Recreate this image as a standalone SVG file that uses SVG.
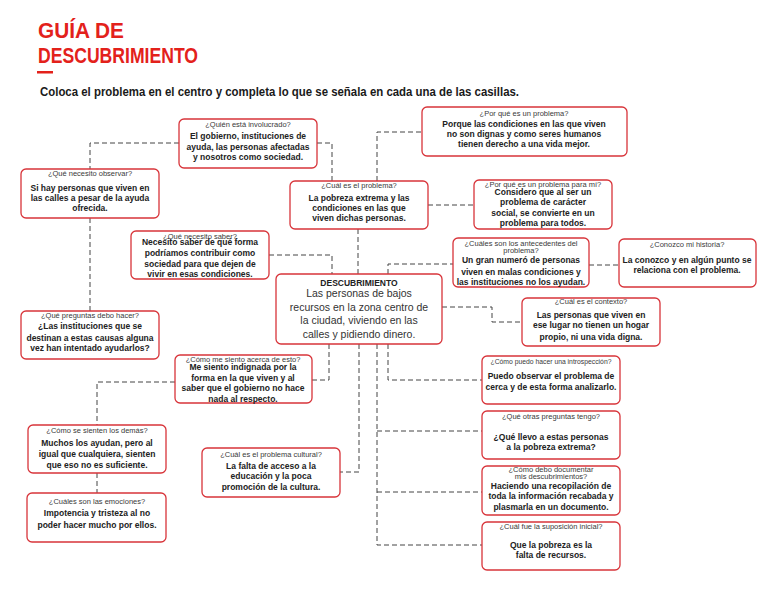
<svg xmlns="http://www.w3.org/2000/svg" width="768" height="594" viewBox="0 0 768 594">
<style>
.box{fill:#fff;stroke:#d8343a;stroke-width:1.3}
.lbl{font-family:"Liberation Sans",Arial,sans-serif;font-size:7.5px;fill:#3a3a3a;text-anchor:middle}
.txt{font-family:"Liberation Sans",Arial,sans-serif;font-size:8.5px;font-weight:bold;fill:#222;text-anchor:middle}
.big{font-family:"Liberation Sans",Arial,sans-serif;font-size:10.5px;fill:#333;text-anchor:middle}
.conn{fill:none;stroke:#444;stroke-width:1;stroke-dasharray:5 3}
.title{font-family:"Liberation Sans",Arial,sans-serif;font-size:22px;font-weight:bold;fill:#e3211b}
</style>
<rect width="768" height="594" fill="#fff"/>
<g id="header">
<text class="title" x="38" y="38" textLength="86" lengthAdjust="spacingAndGlyphs">GUÍA DE</text>
<text class="title" x="38" y="63" textLength="160" lengthAdjust="spacingAndGlyphs">DESCUBRIMIENTO</text>
<rect x="37" y="71" width="16" height="2.5" fill="#e3211b"/>
<text x="40" y="96" font-family="Liberation Sans,Arial,sans-serif" font-size="12" font-weight="bold" fill="#1a1a1a" textLength="479" lengthAdjust="spacingAndGlyphs">Coloca el problema en el centro y completa lo que se señala en cada una de las casillas.</text>
</g>
<g id="connectors">
<path class="conn" d="M179,143 H90 V169"/>
<path class="conn" d="M90,218 V311"/>
<path class="conn" d="M317,143 H332 V181"/>
<path class="conn" d="M377,181 V132 H422"/>
<path class="conn" d="M428,205 H474"/>
<path class="conn" d="M358,229 V274"/>
<path class="conn" d="M269,255 H332 V274"/>
<path class="conn" d="M388,274 V264 H453"/>
<path class="conn" d="M589,265 H619"/>
<path class="conn" d="M442,307 H492 V322 H522"/>
<path class="conn" d="M329,344 V380 H312"/>
<path class="conn" d="M359,344 V472 H340"/>
<path class="conn" d="M377,344 V545 H482"/>
<path class="conn" d="M377,431 H482"/>
<path class="conn" d="M377,492 H482"/>
<path class="conn" d="M388,344 V380 H482"/>
<path class="conn" d="M175,382 H97 V425"/>
<path class="conn" d="M97,473 V493"/>
</g>
<g id="quien">
<rect class="box" x="179" y="119" width="138" height="49" rx="5"/>
<text class="lbl" x="248" y="127">¿Quién está involucrado?</text>
<text class="txt" x="248" y="139">El gobierno, instituciones de</text>
<text class="txt" x="248" y="150">ayuda, las personas afectadas</text>
<text class="txt" x="248" y="160">y nosotros como sociedad.</text>
</g>
<g id="observar">
<rect class="box" x="21" y="169" width="138" height="49" rx="5"/>
<text class="lbl" x="90" y="176">¿Qué necesito observar?</text>
<text class="txt" x="90" y="191">Si hay personas que viven en</text>
<text class="txt" x="90" y="201">las calles a pesar de la ayuda</text>
<text class="txt" x="90" y="211">ofrecida.</text>
</g>
<g id="problema">
<rect class="box" x="290" y="181" width="138" height="48" rx="5"/>
<text class="lbl" x="359" y="188">¿Cuál es el problema?</text>
<text class="txt" x="359" y="201">La pobreza extrema y las</text>
<text class="txt" x="359" y="211">condiciones en las que</text>
<text class="txt" x="359" y="221">viven dichas personas.</text>
</g>
<g id="porque">
<rect class="box" x="422" y="107" width="205" height="49" rx="5"/>
<text class="lbl" x="524" y="116">¿Por qué es un problema?</text>
<text class="txt" x="524" y="127">Porque las condiciones en las que viven</text>
<text class="txt" x="524" y="137">no son dignas y como seres humanos</text>
<text class="txt" x="524" y="147">tienen derecho a una vida mejor.</text>
</g>
<g id="parami">
<rect class="box" x="474" y="180" width="138" height="49" rx="5"/>
<text class="lbl" x="543" y="187">¿Por qué es un problema para mí?</text>
<text class="txt" x="543" y="195">Considero que al ser un</text>
<text class="txt" x="543" y="205">problema de carácter</text>
<text class="txt" x="543" y="216">social, se convierte en un</text>
<text class="txt" x="543" y="226">problema para todos.</text>
</g>
<g id="saber">
<rect class="box" x="131" y="231" width="138" height="48" rx="5"/>
<text class="lbl" x="200" y="239">¿Qué necesito saber?</text>
<text class="txt" x="200" y="245">Necesito saber de qué forma</text>
<text class="txt" x="200" y="256">podríamos contribuir como</text>
<text class="txt" x="200" y="267">sociedad para que dejen de</text>
<text class="txt" x="200" y="277">vivir en esas condiciones.</text>
</g>
<g id="antecedentes">
<rect class="box" x="453" y="238" width="136" height="49" rx="5"/>
<text class="lbl" x="521" y="246">¿Cuáles son los antecedentes del</text>
<text class="lbl" x="521" y="253">problema?</text>
<text class="txt" x="521" y="263">Un gran numeró de personas</text>
<text class="txt" x="521" y="275">viven en malas condiciones y</text>
<text class="txt" x="521" y="285">las instituciones no los ayudan.</text>
</g>
<g id="historia">
<rect class="box" x="619" y="239" width="137" height="48" rx="5"/>
<text class="lbl" x="687" y="247">¿Conozco mi historia?</text>
<text class="txt" x="687" y="263">La conozco y en algún punto se</text>
<text class="txt" x="687" y="273">relaciona con el problema.</text>
</g>
<g id="contexto">
<rect class="box" x="522" y="298" width="138" height="48" rx="5"/>
<text class="lbl" x="591" y="304">¿Cuál es el contexto?</text>
<text class="txt" x="591" y="318">Las personas que viven en</text>
<text class="txt" x="591" y="328">ese lugar no tienen un hogar</text>
<text class="txt" x="591" y="340">propio, ni una vida digna.</text>
</g>
<g id="descubrimiento">
<rect class="box" x="276" y="274" width="166" height="70" rx="5"/>
<text class="txt" x="359" y="286" style="font-size:8.5px">DESCUBRIMIENTO</text>
<text class="big" x="359" y="297">Las personas de bajos</text>
<text class="big" x="359" y="311">recursos en la zona centro de</text>
<text class="big" x="359" y="324">la ciudad, viviendo en las</text>
<text class="big" x="359" y="338">calles y pidiendo dinero.</text>
</g>
<g id="preguntas">
<rect class="box" x="21" y="311" width="138" height="48" rx="5"/>
<text class="lbl" x="90" y="318">¿Qué preguntas debo hacer?</text>
<text class="txt" x="90" y="329">¿Las instituciones que se</text>
<text class="txt" x="90" y="341">destinan a estas causas alguna</text>
<text class="txt" x="90" y="351">vez han intentado ayudarlos?</text>
</g>
<g id="siento">
<rect class="box" x="175" y="355" width="137" height="48" rx="5"/>
<text class="lbl" x="243" y="362">¿Cómo me siento acerca de esto?</text>
<text class="txt" x="243" y="370">Me siento indignada por la</text>
<text class="txt" x="243" y="381">forma en la que viven y al</text>
<text class="txt" x="243" y="391">saber que el gobierno no hace</text>
<text class="txt" x="243" y="402">nada al respecto.</text>
</g>
<g id="introspeccion">
<rect class="box" x="482" y="356" width="138" height="48" rx="5"/>
<text class="lbl" x="551" y="364" style="font-size:6.8px">¿Cómo puedo hacer una introspección?</text>
<text class="txt" x="551" y="379">Puedo observar el problema de</text>
<text class="txt" x="551" y="390">cerca y de esta forma analizarlo.</text>
</g>
<g id="otras">
<rect class="box" x="482" y="411" width="138" height="48" rx="5"/>
<text class="lbl" x="551" y="419">¿Qué otras preguntas tengo?</text>
<text class="txt" x="551" y="440">¿Qué llevo a estas personas</text>
<text class="txt" x="551" y="450">a la pobreza extrema?</text>
</g>
<g id="documentar">
<rect class="box" x="482" y="466" width="138" height="49" rx="5"/>
<text class="lbl" x="551" y="472">¿Cómo debo documentar</text>
<text class="lbl" x="551" y="479">mis descubrimientos?</text>
<text class="txt" x="551" y="489">Haciendo una recopilación de</text>
<text class="txt" x="551" y="499">toda la información recabada y</text>
<text class="txt" x="551" y="510">plasmarla en un documento.</text>
</g>
<g id="suposicion">
<rect class="box" x="482" y="522" width="138" height="48" rx="5"/>
<text class="lbl" x="551" y="529">¿Cuál fue la suposición inicial?</text>
<text class="txt" x="551" y="548">Que la pobreza es la</text>
<text class="txt" x="551" y="558">falta de recursos.</text>
</g>
<g id="sienten">
<rect class="box" x="28" y="425" width="138" height="48" rx="5"/>
<text class="lbl" x="97" y="433">¿Cómo se sienten los demás?</text>
<text class="txt" x="97" y="446">Muchos los ayudan, pero al</text>
<text class="txt" x="97" y="457">igual que cualquiera, sienten</text>
<text class="txt" x="97" y="468">que eso no es suficiente.</text>
</g>
<g id="emociones">
<rect class="box" x="27" y="493" width="139" height="49" rx="5"/>
<text class="lbl" x="97" y="504">¿Cuáles son las emociones?</text>
<text class="txt" x="97" y="516">Impotencia y tristeza al no</text>
<text class="txt" x="97" y="528">poder hacer mucho por ellos.</text>
</g>
<g id="cultural">
<rect class="box" x="202" y="448" width="138" height="49" rx="5"/>
<text class="lbl" x="271" y="457">¿Cuál es el problema cultural?</text>
<text class="txt" x="271" y="469">La falta de acceso a la</text>
<text class="txt" x="271" y="479">educación y la poca</text>
<text class="txt" x="271" y="490">promoción de la cultura.</text>
</g>
</svg>
